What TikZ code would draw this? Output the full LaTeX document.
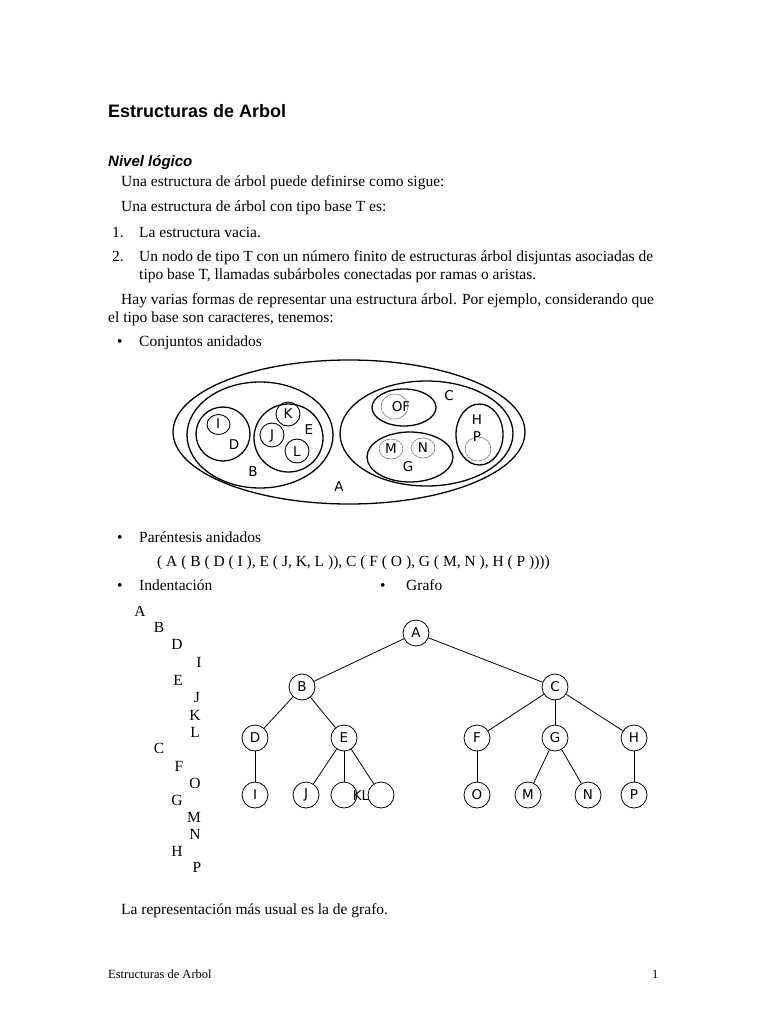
\documentclass[tikz,border=0pt]{standalone}
\usepackage{fontspec}
\setmainfont{Liberation Serif}
\newfontfamily\headfont{Liberation Sans}
\newfontfamily\lblfont{DejaVu Sans}
\begin{document}
\begin{tikzpicture}[x=1pt,y=-1pt,
  txt/.style={anchor=base west, inner sep=0, font=\fontsize{15.5}{18}\selectfont},
  foot/.style={anchor=base west, inner sep=0, font=\fontsize{12.5}{15}\selectfont},
  lbl/.style={inner sep=0, font=\lblfont\fontsize{13.5}{15}\selectfont},
  setline/.style={draw, line width=1.3pt},
  subline/.style={draw, gray, line width=0.6pt},
  tnode/.style={circle, draw, line width=0.8pt, minimum size=26pt, inner sep=0, font=\lblfont\fontsize{13.5}{15}\selectfont},
  edge/.style={line width=0.8pt},
  ind/.style={inner sep=0, anchor=base, font=\fontsize{15.5}{18}\selectfont}]
\useasboundingbox (0,0) rectangle (768,1024);
\fill[white] (0,0) rectangle (768,1024);

% headings
\node[anchor=base west, inner sep=0, font=\headfont\bfseries\fontsize{18}{21}\selectfont] (title) at (108,118) {Estructuras de Arbol};
\node[anchor=base west, inner sep=0, font=\headfont\bfseries\itshape\fontsize{15}{18}\selectfont] (sub) at (108,167) {Nivel lógico};

% body text
\node[txt] (t1) at (121,187) {Una estructura de árbol puede definirse como sigue:};
\node[txt] (t2) at (121,212) {Una estructura de árbol con tipo base T es:};
\node[txt] (n1) at (112,237) {1.};
\node[txt] (t3) at (139,237) {La estructura vacia.};
\node[txt] (n2) at (112,261) {2.};
\node[txt] (t4) at (139,261) {Un nodo de tipo T con un número finito de estructuras árbol disjuntas asociadas de};
\node[txt] (t5) at (139,279) {tipo base T, llamadas subárboles conectadas por ramas o aristas.};
\node[txt] (t6) at (121,304) {Hay varias formas de representar una estructura árbol. Por ejemplo, considerando que};
\node[txt] (t7) at (108,322) {el tipo base son caracteres, tenemos:};
\node[txt] (b1) at (117,346) {•};
\node[txt] (t8) at (139,346) {Conjuntos anidados};

% nested sets
\draw[setline] (349,432) ellipse [x radius=176, y radius=72];
\draw[setline] (260,435) ellipse [x radius=73, y radius=53];
\draw[setline] (223,434) ellipse [x radius=27, y radius=27];
\draw[setline, line width=0.9pt] (218.5,424.5) ellipse [x radius=11.5, y radius=10];
\draw[setline] (288.5,438) ellipse [x radius=34.5, y radius=34];
\draw[setline, line width=0.9pt] (288,414) circle [radius=12];
\draw[setline, line width=0.9pt] (272,435) circle [radius=12];
\draw[setline, line width=0.9pt] (297,451) circle [radius=12];
\draw[setline] (426.5,433.5) ellipse [x radius=86.5, y radius=52.5];
\draw[setline] (404,407.5) ellipse [x radius=32, y radius=18.5];
\draw[subline] (394.5,406.5) ellipse [x radius=13.5, y radius=12.5];
\draw[setline] (410,457) ellipse [x radius=43, y radius=25];
\draw[subline] (391,449) ellipse [x radius=12, y radius=10];
\draw[subline] (423,448) ellipse [x radius=12, y radius=10];
\draw[setline] (479.5,434.5) ellipse [x radius=23.5, y radius=30.5];
\draw[subline] (478,449) ellipse [x radius=13, y radius=12];

\node[lbl] (sI) at (218,424) {I};
\node[lbl] (sD) at (234,445) {D};
\node[lbl] (sE) at (309,430) {E};
\node[lbl] (sK) at (288,414) {K};
\node[lbl] (sJ) at (272,436) {J};
\node[lbl] (sL) at (297,452) {L};
\node[lbl] (sB) at (253,472) {B};
\node[lbl] (sA) at (339,487) {A};
\node[lbl] (sC) at (449,396) {C};
\node[lbl] (sOF) at (401,407) {OF};
\node[lbl] (sM) at (391,449) {M};
\node[lbl] (sN) at (423,448) {N};
\node[lbl] (sG) at (408,467) {G};
\node[lbl] (sH) at (477,420) {H};
\node[lbl] (sP) at (477,437) {P};

% parentheses
\node[txt] (b2) at (117,542) {•};
\node[txt] (t9) at (139,542) {Paréntesis anidados};
\node[txt] (t10) at (157,566) {( A ( B ( D ( I ), E ( J, K, L )), C ( F ( O ), G ( M, N ), H ( P ))))};
\node[txt] (b3) at (117,590) {•};
\node[txt] (t11) at (139,590) {Indentación};
\node[txt] (b4) at (380,590) {•};
\node[txt] (t12) at (406,590) {Grafo};

% indentation
\node[ind] (iA) at (140,616) {A};
\node[ind] (iB) at (159,632) {B};
\node[ind] (iD) at (177,649) {D};
\node[ind] (iI) at (199,667) {I};
\node[ind] (iE) at (178,685) {E};
\node[ind] (iJ) at (197,702) {J};
\node[ind] (iK) at (195,720) {K};
\node[ind] (iL) at (195,737) {L};
\node[ind] (iC) at (159,753) {C};
\node[ind] (iF) at (179,771) {F};
\node[ind] (iO) at (195,788) {O};
\node[ind] (iG) at (177,805) {G};
\node[ind] (iM) at (194,822) {M};
\node[ind] (iN) at (195,839) {N};
\node[ind] (iH) at (177,856) {H};
\node[ind] (iP) at (197,872) {P};

% graph
\node[tnode] (A) at (416,633) {A};
\node[tnode] (B) at (302,687) {B};
\node[tnode] (C) at (555,687) {C};
\node[tnode] (D) at (255,738) {D};
\node[tnode] (E) at (344,738) {E};
\node[tnode] (F) at (477,738) {F};
\node[tnode] (G) at (555,738) {G};
\node[tnode] (H) at (634,738) {H};
\node[tnode] (I) at (255,795) {I};
\node[tnode] (J) at (306,795) {J};
\node[tnode] (K) at (344,795) {};
\node[tnode] (L) at (381,795) {};
\node[lbl] (KL) at (361,796) {KL};
\node[tnode] (O) at (477,795) {O};
\node[tnode] (M) at (528,795) {M};
\node[tnode] (N) at (588,795) {N};
\node[tnode] (P) at (634,795) {P};
\draw[edge] (A) -- (B);
\draw[edge] (A) -- (C);
\draw[edge] (B) -- (D);
\draw[edge] (B) -- (E);
\draw[edge] (C) -- (F);
\draw[edge] (C) -- (G);
\draw[edge] (C) -- (H);
\draw[edge] (D) -- (I);
\draw[edge] (E) -- (J);
\draw[edge] (E) -- (K);
\draw[edge] (E) -- (L);
\draw[edge] (F) -- (O);
\draw[edge] (G) -- (M);
\draw[edge] (G) -- (N);
\draw[edge] (H) -- (P);

% closing
\node[txt] (t13) at (121,914) {La representación más usual es la de grafo.};
\node[foot] (f1) at (108,978) {Estructuras de Arbol};
\node[foot] (f2) at (652,978) {1};
\end{tikzpicture}
\end{document}
